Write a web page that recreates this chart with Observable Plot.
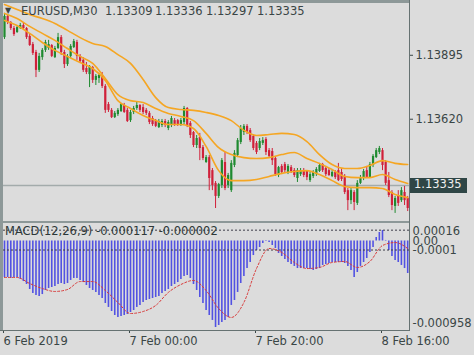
<!DOCTYPE html>
<html><head><meta charset="utf-8">
<script src="https://cdn.jsdelivr.net/npm/d3@7"></script>
<script src="https://cdn.jsdelivr.net/npm/@observablehq/plot@0.6"></script>
<style>
html,body{margin:0;padding:0;background:#dcdcdc;}
#wrap{position:relative;width:474px;height:355px;background:#dcdcdc;overflow:hidden;font-family:"DejaVu Sans",sans-serif;font-size:11.5px;color:#3a4545;}
#wrap svg{position:absolute;left:0;}
.d{position:absolute;}
.t{position:absolute;white-space:pre;line-height:1;}
</style></head><body><div id="wrap"></div>
<script>
// ---- data (EURUSD M30) ----
const tickBars = [0, 40, 80, 120];
const tickLabels = ["6 Feb 2019", "7 Feb 00:00", "7 Feb 20:00", "8 Feb 16:00"];
const priceTicks = [1.13895, 1.13620];
const bidPrice = 1.13335;
const headerOHLC = ["1.13309", "1.13336", "1.13297", "1.13335"];

const opens = [1.13971,1.14062,1.14036,1.14010,1.13993,1.14010,1.14023,1.14010,1.13976,1.13941,1.13907,1.13830,1.13885,1.13916,1.13924,1.13937,1.13885,1.13924,1.13971,1.13907,1.13855,1.13890,1.13928,1.13950,1.13890,1.13873,1.13838,1.13812,1.13842,1.13787,1.13795,1.13804,1.13761,1.13683,1.13658,1.13627,1.13640,1.13653,1.13679,1.13658,1.13614,1.13649,1.13666,1.13679,1.13670,1.13658,1.13645,1.13623,1.13610,1.13584,1.13593,1.13610,1.13580,1.13597,1.13614,1.13614,1.13593,1.13606,1.13666,1.13602,1.13563,1.13507,1.13541,1.13498,1.13434,1.13455,1.13399,1.13344,1.13288,1.13335,1.13434,1.13335,1.13313,1.13421,1.13464,1.13520,1.13563,1.13589,1.13571,1.13546,1.13516,1.13494,1.13516,1.13533,1.13485,1.13481,1.13451,1.13378,1.13417,1.13425,1.13391,1.13412,1.13399,1.13365,1.13382,1.13399,1.13395,1.13356,1.13374,1.13382,1.13395,1.13425,1.13408,1.13399,1.13374,1.13391,1.13399,1.13391,1.13374,1.13313,1.13270,1.13305,1.13258,1.13344,1.13365,1.13399,1.13369,1.13421,1.13455,1.13477,1.13485,1.13434,1.13356,1.13305,1.13245,1.13288,1.13270,1.13305,1.13279];
const highs = [1.14075,1.14070,1.14040,1.14019,1.14023,1.14032,1.14036,1.14014,1.13984,1.13950,1.13916,1.13903,1.13924,1.13959,1.13959,1.13941,1.13933,1.13989,1.13980,1.13916,1.13898,1.13941,1.13963,1.13959,1.13898,1.13885,1.13864,1.13851,1.13847,1.13812,1.13817,1.13821,1.13769,1.13692,1.13666,1.13653,1.13666,1.13688,1.13688,1.13666,1.13658,1.13675,1.13692,1.13683,1.13683,1.13666,1.13653,1.13632,1.13619,1.13619,1.13619,1.13619,1.13614,1.13632,1.13623,1.13619,1.13623,1.13675,1.13670,1.13610,1.13567,1.13550,1.13559,1.13507,1.13464,1.13464,1.13408,1.13352,1.13344,1.13451,1.13477,1.13387,1.13442,1.13485,1.13537,1.13593,1.13597,1.13597,1.13580,1.13554,1.13524,1.13537,1.13541,1.13541,1.13494,1.13494,1.13460,1.13417,1.13425,1.13434,1.13425,1.13421,1.13408,1.13408,1.13408,1.13408,1.13399,1.13391,1.13399,1.13412,1.13430,1.13430,1.13417,1.13408,1.13399,1.13399,1.13430,1.13408,1.13382,1.13322,1.13322,1.13313,1.13356,1.13378,1.13404,1.13417,1.13434,1.13468,1.13494,1.13503,1.13494,1.13442,1.13391,1.13313,1.13288,1.13313,1.13326,1.13331,1.13288];
const lows = [1.13963,1.14027,1.14002,1.13976,1.13989,1.14006,1.14006,1.13963,1.13933,1.13894,1.13799,1.13821,1.13873,1.13907,1.13916,1.13885,1.13881,1.13920,1.13894,1.13838,1.13847,1.13881,1.13924,1.13873,1.13860,1.13821,1.13812,1.13756,1.13774,1.13765,1.13774,1.13752,1.13645,1.13649,1.13623,1.13623,1.13632,1.13649,1.13645,1.13606,1.13606,1.13640,1.13658,1.13649,1.13640,1.13636,1.13597,1.13589,1.13584,1.13580,1.13584,1.13584,1.13571,1.13584,1.13589,1.13589,1.13589,1.13597,1.13584,1.13537,1.13498,1.13494,1.13442,1.13442,1.13430,1.13313,1.13313,1.13236,1.13279,1.13322,1.13313,1.13322,1.13305,1.13412,1.13455,1.13511,1.13550,1.13554,1.13520,1.13485,1.13468,1.13485,1.13507,1.13464,1.13451,1.13421,1.13374,1.13369,1.13382,1.13391,1.13382,1.13387,1.13369,1.13348,1.13374,1.13369,1.13356,1.13348,1.13365,1.13374,1.13391,1.13391,1.13374,1.13374,1.13369,1.13361,1.13352,1.13352,1.13296,1.13227,1.13253,1.13227,1.13249,1.13339,1.13356,1.13365,1.13365,1.13412,1.13451,1.13468,1.13399,1.13335,1.13283,1.13227,1.13215,1.13245,1.13262,1.13249,1.13223];
const closes = [1.14062,1.14036,1.14010,1.13984,1.14014,1.14023,1.14010,1.13971,1.13937,1.13903,1.13830,1.13890,1.13916,1.13950,1.13941,1.13890,1.13924,1.13971,1.13907,1.13855,1.13890,1.13933,1.13954,1.13890,1.13868,1.13830,1.13821,1.13847,1.13787,1.13804,1.13808,1.13761,1.13658,1.13658,1.13627,1.13645,1.13658,1.13683,1.13649,1.13610,1.13649,1.13666,1.13679,1.13658,1.13649,1.13645,1.13606,1.13597,1.13589,1.13610,1.13610,1.13593,1.13606,1.13623,1.13597,1.13593,1.13614,1.13666,1.13593,1.13550,1.13507,1.13537,1.13494,1.13451,1.13455,1.13365,1.13335,1.13288,1.13339,1.13442,1.13322,1.13378,1.13430,1.13473,1.13528,1.13580,1.13589,1.13563,1.13528,1.13494,1.13477,1.13524,1.13528,1.13477,1.13460,1.13442,1.13382,1.13412,1.13391,1.13399,1.13417,1.13395,1.13378,1.13399,1.13399,1.13378,1.13369,1.13382,1.13391,1.13404,1.13421,1.13399,1.13382,1.13378,1.13391,1.13369,1.13356,1.13361,1.13305,1.13270,1.13313,1.13262,1.13344,1.13369,1.13395,1.13369,1.13425,1.13460,1.13485,1.13494,1.13421,1.13344,1.13292,1.13249,1.13279,1.13258,1.13313,1.13270,1.13236];

const envBars = [0,4,8,12,16,20,24,28,32,36,40,44,48,52,56,60,64,68,72,76,80,84,88,92,96,100,104,108,112,116,120,124,128];
const envUpper = [1.14113,1.14092,1.14070,1.14053,1.14032,1.14002,1.13971,1.13946,1.13933,1.13898,1.13860,1.13791,1.13713,1.13670,1.13662,1.13658,1.13649,1.13636,1.13614,1.13572,1.13550,1.13554,1.13559,1.13554,1.13524,1.13468,1.13425,1.13408,1.13408,1.13421,1.13442,1.13430,1.13425];
const envMiddle = [1.14075,1.14053,1.14019,1.13989,1.13959,1.13924,1.13890,1.13860,1.13795,1.13726,1.13700,1.13692,1.13666,1.13645,1.13632,1.13614,1.13559,1.13498,1.13468,1.13455,1.13451,1.13455,1.13468,1.13477,1.13451,1.13430,1.13404,1.13374,1.13369,1.13369,1.13382,1.13361,1.13344];
const envLower = [1.14045,1.14023,1.13989,1.13950,1.13916,1.13890,1.13864,1.13838,1.13787,1.13700,1.13666,1.13636,1.13614,1.13597,1.13597,1.13580,1.13503,1.13399,1.13356,1.13356,1.13361,1.13374,1.13387,1.13395,1.13399,1.13382,1.13356,1.13331,1.13326,1.13326,1.13322,1.13296,1.13283];

const macdHist = [-0.000404,-0.000404,-0.000415,-0.000404,-0.000404,-0.000426,-0.000449,-0.000482,-0.000537,-0.000581,-0.000604,-0.000615,-0.000593,-0.000548,-0.000526,-0.000515,-0.000504,-0.000482,-0.000471,-0.000482,-0.000471,-0.000437,-0.000415,-0.000415,-0.000437,-0.000460,-0.000493,-0.000526,-0.000548,-0.000570,-0.000604,-0.000637,-0.000692,-0.000736,-0.000781,-0.000825,-0.000847,-0.000836,-0.000825,-0.000814,-0.000792,-0.000770,-0.000736,-0.000714,-0.000681,-0.000659,-0.000648,-0.000637,-0.000626,-0.000615,-0.000581,-0.000559,-0.000537,-0.000504,-0.000482,-0.000460,-0.000426,-0.000393,-0.000382,-0.000415,-0.000482,-0.000548,-0.000626,-0.000692,-0.000770,-0.000825,-0.000880,-0.000958,-0.000936,-0.000903,-0.000880,-0.000847,-0.000714,-0.000659,-0.000570,-0.000471,-0.000393,-0.000305,-0.000238,-0.000161,-0.000105,-0.000072,-0.000028,-0.000006,-0.000017,-0.000050,-0.000083,-0.000138,-0.000172,-0.000205,-0.000238,-0.000260,-0.000282,-0.000305,-0.000305,-0.000305,-0.000305,-0.000316,-0.000327,-0.000316,-0.000305,-0.000271,-0.000260,-0.000249,-0.000238,-0.000238,-0.000238,-0.000238,-0.000249,-0.000282,-0.000327,-0.000404,-0.000349,-0.000282,-0.000238,-0.000194,-0.000127,-0.000072,0.000039,0.000094,0.000116,0.000006,-0.000105,-0.000172,-0.000216,-0.000238,-0.000271,-0.000305,-0.000360];
const macdSignal = [-0.000404,-0.000404,-0.000471,-0.000526,-0.000559,-0.000537,-0.000449,-0.000449,-0.000548,-0.000681,-0.000803,-0.000781,-0.000714,-0.000570,-0.000482,-0.000437,-0.000548,-0.000748,-0.000847,-0.000681,-0.000305,-0.000083,-0.000127,-0.000238,-0.000305,-0.000293,-0.000238,-0.000227,-0.000293,-0.000227,-0.000050,-0.000017,-0.000083];
const macdLevels = [0.00012, -0.0001];
const macdLabels = ["0.00016", "0.00", "-0.0001", "-0.000958"];
const macdLabelVals = [0.00016, 0, -0.0001, -0.000958];
const macdTitle = "MACD(12,26,9) -0.000117 -0.000002";

// ---- styles ----
const GREEN = "#1f8a30", RED = "#d0203a", ORANGE = "#f5a623", BLUE = "#5252e2", SIG = "#d83a3a", AXC = "#3a4646";
const font = {background:"transparent", fontFamily:"DejaVu Sans", fontSize:"11.5px", color:AXC, overflow:"visible"};
const xDomain = [-0.317, 128.571];

const bars = closes.map((c, i) => ({i, open: opens[i], high: highs[i], low: lows[i], close: c}));
const env = envBars.map((b, k) => ({i: b, upper: envUpper[k], middle: envMiddle[k], lower: envLower[k], signal: macdSignal[k]}));
const hist = macdHist.map((v, i) => ({i, v}));
const col = d => d.close >= d.open ? GREEN : RED;

const main = Plot.plot({
  width: 474, height: 222,
  marginLeft: 3, marginRight: 65, marginTop: 3, marginBottom: 2,
  style: font,
  x: {domain: xDomain, axis: null},
  y: {domain: [1.131845, 1.141176]},
  marks: [
    Plot.ruleY([bidPrice], {stroke: "#a3abab", strokeWidth: 1.5}),
    Plot.ruleX(bars, {x: "i", y1: "low", y2: "high", stroke: col, strokeWidth: 1}),
    Plot.ruleX(bars, {x: "i", y1: "open", y2: "close", stroke: col, strokeWidth: 2.2}),
    Plot.line(env, {x: "i", y: "upper", stroke: ORANGE, strokeWidth: 1.6, curve: "monotone-x"}),
    Plot.line(env, {x: "i", y: "middle", stroke: ORANGE, strokeWidth: 1.6, curve: "monotone-x"}),
    Plot.line(env, {x: "i", y: "lower", stroke: ORANGE, strokeWidth: 1.6, curve: "monotone-x"}),
    Plot.axisY({anchor: "right", ticks: priceTicks, tickSize: 3, tickPadding: 3, tickFormat: d => d.toFixed(5), color: AXC, label: null})
  ]
});

const macd = Plot.plot({
  width: 474, height: 133,
  marginLeft: 3, marginRight: 65, marginTop: 2, marginBottom: 25,
  style: font,
  x: {domain: xDomain, label: null},
  y: {domain: [-0.0009912, 0.0001827], axis: null},
  marks: [
    Plot.ruleX(hist, {x: "i", y1: 0, y2: "v", stroke: BLUE, strokeWidth: 1.6}),
    Plot.ruleY(macdLevels, {stroke: "#3c3c48", strokeWidth: 1, strokeDasharray: "2,2"}),
    Plot.line(env, {x: "i", y: "signal", stroke: SIG, strokeWidth: 1, strokeDasharray: "2,2", curve: "monotone-x"}),
    Plot.text([macdLabelVals[0]], {y: d => d, text: [macdLabels[0]], frameAnchor: "right", textAnchor: "start", dx: 3, dy: 5, fill: AXC}),
    Plot.text([macdLabelVals[1]], {y: d => d, text: [macdLabels[1]], frameAnchor: "right", textAnchor: "start", dx: 3, dy: 0, fill: AXC}),
    Plot.text([macdLabelVals[2]], {y: d => d, text: [macdLabels[2]], frameAnchor: "right", textAnchor: "start", dx: 3, dy: 0, fill: AXC}),
    Plot.text([macdLabelVals[3]], {y: d => d, text: [macdLabels[3]], frameAnchor: "right", textAnchor: "start", dx: 3, dy: -4, fill: AXC}),
    Plot.axisX({anchor: "bottom", ticks: tickBars, tickSize: 3, tickPadding: 3, textAnchor: "start", dx: -1, label: null,
      tickFormat: d => tickLabels[tickBars.indexOf(d)], color: AXC})
  ]
});

const wrap = document.getElementById("wrap");
main.style.top = "0px";
macd.style.top = "222px";
wrap.appendChild(main);
wrap.appendChild(macd);

function div(cls, css, text) {
  const e = document.createElement("div");
  e.className = cls;
  Object.assign(e.style, css);
  if (text != null) e.textContent = text;
  wrap.appendChild(e);
  return e;
}
// frame pieces
div("d", {left: "0px", top: "0px", width: "409px", height: "3px", background: "#8d9898"});
div("d", {left: "0px", top: "0px", width: "3px", height: "331px", background: "#8d9898"});
div("d", {left: "0px", top: "221px", width: "410px", height: "2px", background: "#8d9898"});
div("d", {left: "409px", top: "0px", width: "1px", height: "331px", background: "#667272"});
div("d", {left: "0px", top: "330px", width: "410px", height: "1px", background: "#667272"});

// bid price label
const yb = main.scale("y").apply(bidPrice);
div("d", {left: "410px", top: (yb - 7.5) + "px", width: "57px", height: "15px", background: "#2f4646"});
div("t", {left: "414px", top: (yb - 6) + "px", color: "#f0f0f0"}, bidPrice.toFixed(5));

// headers
div("t", {left: "5px", top: "7px", fontSize: "8px", color: "#3a4545"}, "\u25BC");
div("t", {left: "21px", top: "6px"}, "EURUSD,M30");
const hx = [105, 155, 206, 257];
headerOHLC.forEach((s, k) => div("t", {left: hx[k] + "px", top: "6px"}, s));
div("t", {left: "5px", top: "226px", color: "#2e3838"}, macdTitle);
</script></body></html>
